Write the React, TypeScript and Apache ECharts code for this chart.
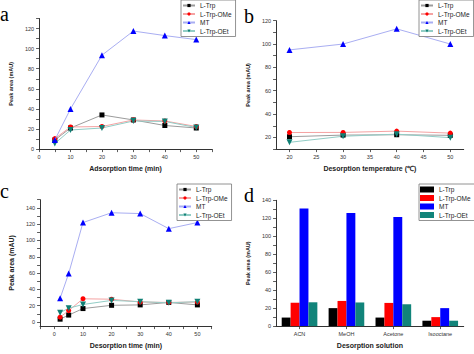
import React, { useEffect, useRef } from "react";
import * as echarts from "echarts";

const FONT = "'Liberation Sans', Arial, sans-serif";
const SERIF = "'Liberation Serif', 'Times New Roman', serif";

const seriesNames = ["L-Trp", "L-Trp-OMe", "MT", "L-Trp-OEt"];
const markerColors = ["#000000", "#ff0000", "#0000ff", "#0f7f74"];
const lineColors = ["#9c9c9c", "#f5a3a3", "#a9aef2", "#92cdc6"];
const barColors = ["#000000", "#ff0000", "#0000ff", "#11847a"];
const symbols = ["rect", "circle", "triangle", "triangle"];
const symbolSizes = [5, 5, 6, 6];
const symbolRotates = [0, 0, 0, 180];

// Panel a: adsorption time
const adsTime = [5, 10, 20, 30, 40, 50];
const adsTrp = [9, 21, 34, 29, 23.5, 21];
const adsOMe = [10.5, 22, 22.5, 29, 28, 22.5];
const adsMT = [9, 40, 93.5, 117.5, 113, 109];
const adsOEt = [5.5, 19, 21, 28, 27.5, 21.5];

// Panel b: desorption temperature
const desTemp = [20, 30, 40, 50];
const tempTrp = [20.6, 22, 22.3, 21.8];
const tempOMe = [24.2, 24.3, 25.4, 23.7];
const tempMT = [95, 100, 113, 100];
const tempOEt = [15.8, 21, 22.8, 19.8];

// Panel c: desorption time
const desTime = [2, 5, 10, 20, 30, 40, 50];
const timeTrp = [3.5, 8.5, 16.5, 20.5, 21, 24, 21];
const timeOMe = [6, 14, 28.5, 28, 24.5, 24, 24.5];
const timeMT = [29, 59.5, 122, 134, 133, 114.5, 122];
const timeOEt = [11.5, 17, 21.5, 26.5, 25, 23.5, 25];

// Panel d: desorption solution
const solvents = ["ACN", "MeOH", "Acetone", "Isooctane"];
const solTrp = [9.5, 20, 9.5, 6];
const solOMe = [26, 28, 25.8, 10];
const solMT = [131, 126, 121.5, 20];
const solOEt = [26.5, 26.3, 24.3, 6];

// tick labels / tick marks
const aXLabels = [0, 10, 20, 30, 40, 50];
const aXTicks = [0, 5, 10, 15, 20, 25, 30, 35, 40, 45, 50, 55];
const aYLabels = [0, 20, 40, 60, 80, 100, 120];
const aYTicks = [0, 10, 20, 30, 40, 50, 60, 70, 80, 90, 100, 110, 120, 130];
const bXLabels = [20, 25, 30, 35, 40, 45, 50];
const bXTicks = [20, 25, 30, 35, 40, 45, 50];
const bYLabels = [20, 40, 60, 80, 100, 120];
const bYTicks = [10, 20, 30, 40, 50, 60, 70, 80, 90, 100, 110, 120];
const cXLabels = [0, 10, 20, 30, 40, 50];
const cXTicks = [-5, 0, 5, 10, 15, 20, 25, 30, 35, 40, 45, 50, 55];
const cYLabels = [0, 20, 40, 60, 80, 100, 120, 140];
const cYTicks = [0, 10, 20, 30, 40, 50, 60, 70, 80, 90, 100, 110, 120, 130, 140, 150];
const dYLabels = [0, 20, 40, 60, 80, 100, 120, 140];
const dYTicks = [0, 10, 20, 30, 40, 50, 60, 70, 80, 90, 100, 110, 120, 130, 140];

const AXIS_COLOR = "#333";

function valueAxis(min: number, max: number, labels: number[], ticks: number[], extra: any) {
  return {
    type: "value",
    min,
    max,
    splitLine: { show: false },
    axisLine: { show: true, onZero: false, lineStyle: { color: AXIS_COLOR, width: 1 } },
    axisTick: { show: true, length: 3, customValues: ticks, lineStyle: { color: AXIS_COLOR, width: 0.8 } },
    axisLabel: { customValues: labels, fontSize: 5.5, color: "#333", fontFamily: FONT, margin: 5 },
    nameLocation: "middle",
    nameTextStyle: { fontSize: 7, fontWeight: "bold", color: "#222", fontFamily: FONT },
    ...extra,
  };
}

function lineSeries(i: number, xs: number[], ys: number[]) {
  return {
    type: "line",
    name: seriesNames[i],
    data: xs.map((x, k) => [x, ys[k]]),
    symbol: symbols[i],
    symbolSize: symbolSizes[i],
    symbolRotate: symbolRotates[i],
    itemStyle: { color: markerColors[i] },
    lineStyle: { color: lineColors[i], width: 1 },
    z: i === 2 ? 3 : 2,
  };
}

function legend(left: number, top: number, extra: any = {}) {
  return {
    orient: "vertical",
    left,
    top,
    itemWidth: 12,
    itemHeight: 4,
    itemGap: 1.5,
    padding: [2, 4, 2, 1],
    borderColor: "#777",
    borderWidth: 0.8,
    backgroundColor: "#fff",
    textStyle: { fontSize: 6.5, color: "#222", fontFamily: FONT },
    data: seriesNames,
    ...extra,
  };
}

function letter(text: string, x: number, y: number) {
  return {
    type: "text",
    x,
    y,
    style: { text, fontSize: 20, fontFamily: SERIF, fill: "#000" },
  };
}

const optionA = {
  animation: false,
  grid: { left: 32, top: 18.5, width: 180, height: 132.5 },
  xAxis: valueAxis(0, 55, aXLabels, aXTicks, { name: "Adsorption time (min)", nameGap: 13 }),
  yAxis: valueAxis(0, 130, aYLabels, aYTicks, {
    name: "Peak area (mAU)",
    nameGap: 17,
    nameTextStyle: { fontSize: 5.5, fontWeight: "bold", color: "#222", fontFamily: FONT },
  }),
  legend: legend(181, 0),
  graphic: [letter("a", 0, 4)],
  series: [
    lineSeries(0, adsTime, adsTrp),
    lineSeries(1, adsTime, adsOMe),
    lineSeries(2, adsTime, adsMT),
    lineSeries(3, adsTime, adsOEt),
  ],
};

const optionB = {
  animation: false,
  grid: { left: 35, top: 20.7, width: 191.7, height: 132.3 },
  xAxis: valueAxis(17.5, 52.5, bXLabels, bXTicks, { name: "Desorption temperature (℃)", nameGap: 14 }),
  yAxis: valueAxis(10, 120, bYLabels, bYTicks, {
    name: "Peak area (mAU)",
    nameGap: 17,
    nameTextStyle: { fontSize: 5.5, fontWeight: "bold", color: "#222", fontFamily: FONT },
  }),
  legend: legend(182, 0),
  graphic: [letter("b", 7, 6)],
  series: [
    lineSeries(0, desTemp, tempTrp),
    lineSeries(1, desTemp, tempOMe),
    lineSeries(2, desTemp, tempMT),
    lineSeries(3, desTemp, tempOEt),
  ],
};

const optionC = {
  animation: false,
  grid: { left: 31.7, top: 22.7, width: 180, height: 135.7 },
  xAxis: valueAxis(-5, 55, cXLabels, cXTicks, { name: "Desorption time (min)", nameGap: 11 }),
  yAxis: valueAxis(-5, 150, cYLabels, cYTicks, { name: "Peak area (mAU)", nameGap: 16 }),
  legend: legend(177, 7),
  graphic: [letter("c", 0, 4)],
  series: [
    lineSeries(0, desTime, timeTrp),
    lineSeries(1, desTime, timeOMe),
    lineSeries(2, desTime, timeMT),
    lineSeries(3, desTime, timeOEt),
  ],
};

const optionD = {
  animation: false,
  grid: { left: 35, top: 23.3, width: 191.7, height: 131 },
  xAxis: {
    type: "category",
    data: solvents,
    axisLine: { show: true, lineStyle: { color: AXIS_COLOR, width: 1 } },
    axisTick: { show: true, length: 3, alignWithLabel: true, lineStyle: { color: AXIS_COLOR, width: 0.8 } },
    axisLabel: { fontSize: 5.5, color: "#333", fontFamily: FONT, margin: 5 },
    name: "Desorption solution",
    nameLocation: "middle",
    nameGap: 14,
    nameTextStyle: { fontSize: 7, fontWeight: "bold", color: "#222", fontFamily: FONT },
  },
  yAxis: valueAxis(0, 140, dYLabels, dYTicks, {
    name: "Peak area (mAU)",
    nameGap: 17,
    nameTextStyle: { fontSize: 5.5, fontWeight: "bold", color: "#222", fontFamily: FONT },
  }),
  legend: legend(182, 7, {
    itemWidth: 14,
    itemHeight: 6,
    itemGap: 1.5,
    data: seriesNames.map((n) => ({ name: n, icon: "rect" })),
  }),
  graphic: [letter("d", 7, 8)],
  series: [
    { type: "bar", name: seriesNames[0], data: solTrp, itemStyle: { color: barColors[0] }, barGap: "0%", barCategoryGap: "24%" },
    { type: "bar", name: seriesNames[1], data: solOMe, itemStyle: { color: barColors[1] }, barGap: "0%", barCategoryGap: "24%" },
    { type: "bar", name: seriesNames[2], data: solMT, itemStyle: { color: barColors[2] }, barGap: "0%", barCategoryGap: "24%" },
    { type: "bar", name: seriesNames[3], data: solOEt, itemStyle: { color: barColors[3] }, barGap: "0%", barCategoryGap: "24%" },
  ],
};

function Chart({ option, left, top }: { option: any; left: number; top: number }) {
  const ref = useRef<HTMLDivElement>(null);
  useEffect(() => {
    const chart = echarts.init(ref.current!, null, { renderer: "svg" });
    chart.setOption(option);
    return () => chart.dispose();
  }, [option]);
  return <div ref={ref} style={{ position: "absolute", left, top, width: 237, height: 177 }} />;
}

export default function App() {
  return (
    <div style={{ position: "absolute", left: 0, top: 0, width: 474, height: 354, background: "#fff", overflow: "hidden" }}>
      <Chart option={optionA} left={0} top={0} />
      <Chart option={optionB} left={237} top={0} />
      <Chart option={optionC} left={0} top={177} />
      <Chart option={optionD} left={237} top={177} />
    </div>
  );
}
